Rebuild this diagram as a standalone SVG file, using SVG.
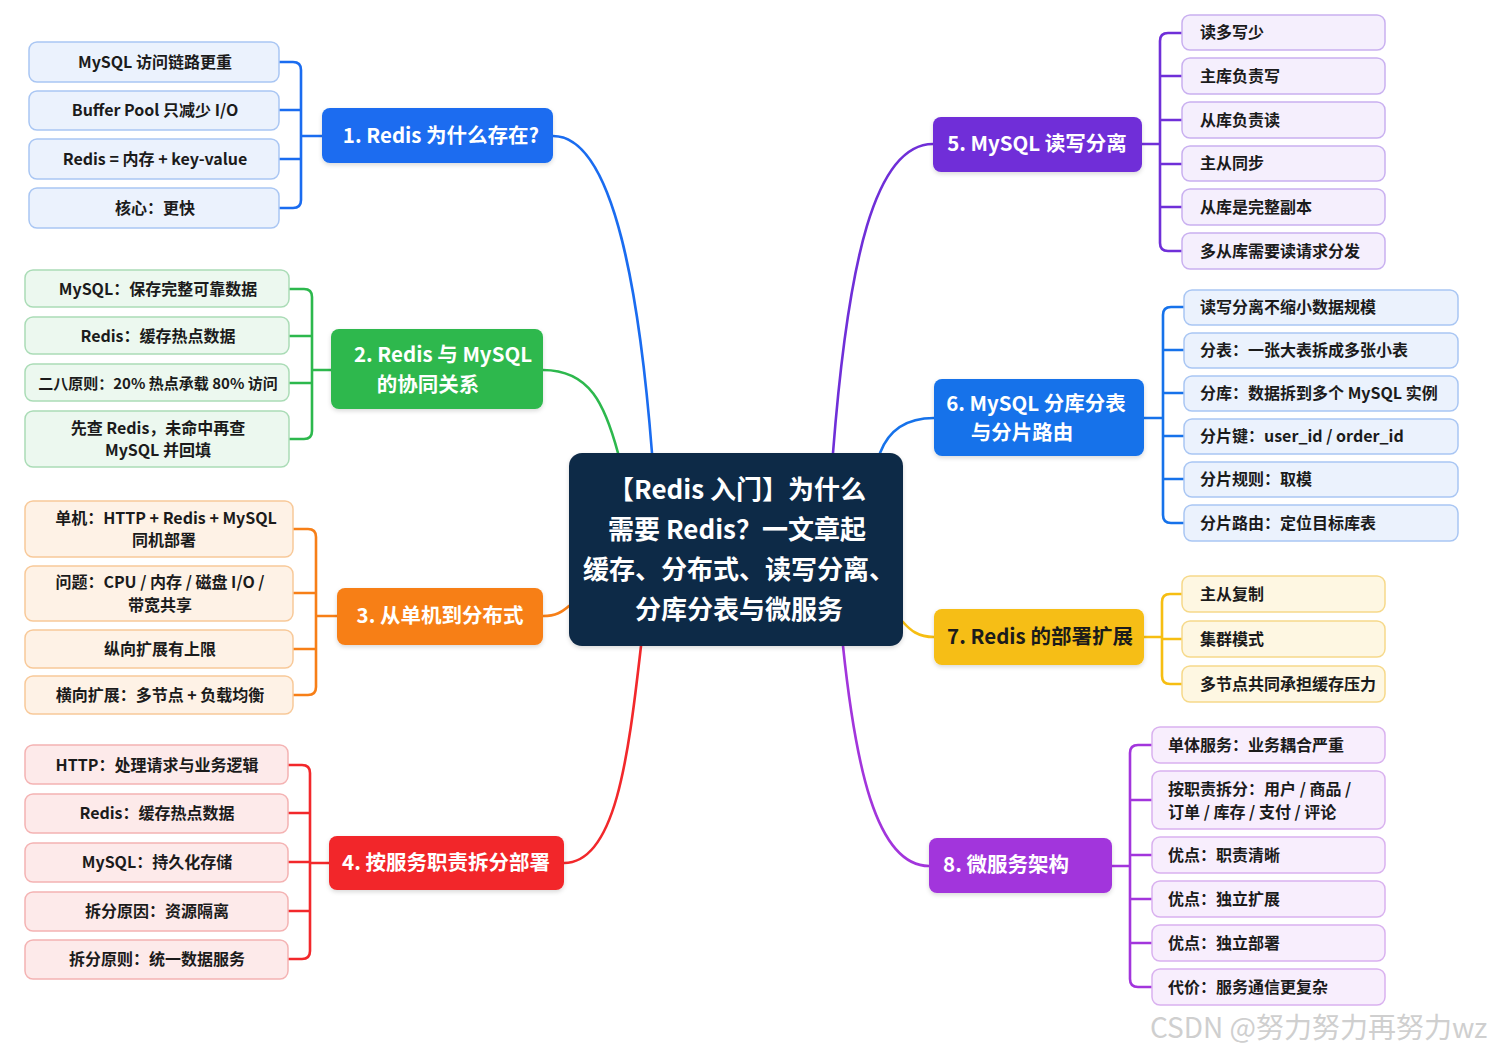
<svg xmlns="http://www.w3.org/2000/svg" width="1492" height="1054" viewBox="0 0 1492 1054">
<defs>
<filter id="sh" x="-10%" y="-10%" width="120%" height="130%"><feDropShadow dx="0" dy="2" stdDeviation="2" flood-color="#000" flood-opacity="0.15"/></filter>
</defs>
<style>
text{font-family:"Noto Sans CJK SC","Noto Sans",sans-serif;font-weight:700}
.c{font-size:16px;fill:#1b1b1b}
.b{font-size:20.5px;fill:#fff}
.m{font-size:26px;fill:#fff}
.mid{text-anchor:middle}
.conn path{fill:none;stroke-width:2.6;stroke-linecap:round}
.cb1{fill:#ebf2fd;stroke:#a9c6f3;stroke-width:1.5}
.cg{fill:#ecf8ef;stroke:#aadcb6;stroke-width:1.5}
.co{fill:#fef2e6;stroke:#f8c999;stroke-width:1.5}
.cr{fill:#fdeaea;stroke:#f4b3b3;stroke-width:1.5}
.cp{fill:#f5effd;stroke:#c9b0f0;stroke-width:1.5}
.cb2{fill:#ebf2fd;stroke:#a9c6f3;stroke-width:1.5}
.cy{fill:#fef7e2;stroke:#f6d98a;stroke-width:1.5}
.cm{fill:#f8eefd;stroke:#d9b1ef;stroke-width:1.5}
</style>
<rect width="1492" height="1054" fill="#fff"/>

<g id="connectors" class="conn">
<path stroke="#1a6cf0" d="M553,136 C615,136 640,300 652,453"/>
<path stroke="#2db84d" d="M543,370 C590,370 605,405 618,453"/>
<path stroke="#f77f17" d="M543,616 C556,616 562,612 569,606"/>
<path stroke="#f2282b" d="M564,863 C615,863 628,760 641,646"/>
<path stroke="#6f2fd8" d="M933,144 C875,144 848,260 833,453"/>
<path stroke="#1672ea" d="M934,418 C905,418 888,432 880,453"/>
<path stroke="#f6be12" d="M934,637 C918,637 910,630 903,622"/>
<path stroke="#a235dc" d="M929,866 C875,866 855,760 843,646"/>
<path stroke="#1a6cf0" d="M279,62 H293 Q301,62 301,70 V200 Q301,208 293,208 H279 M279,110 H301 M279,159 H301 M301,136 H322"/>
<path stroke="#2db84d" d="M289,289 H304 Q312,289 312,297 V431 Q312,439 304,439 H289 M289,336 H312 M289,383 H312 M312,370 H331"/>
<path stroke="#f77f17" d="M293,529 H308 Q316,529 316,537 V687 Q316,695 308,695 H293 M293,593 H316 M293,649 H316 M316,616 H337"/>
<path stroke="#f2282b" d="M288,765 H302 Q310,765 310,773 V951 Q310,959 302,959 H288 M288,813 H310 M288,862 H310 M288,911 H310 M310,863 H329"/>
<path stroke="#6f2fd8" d="M1182,33 H1168 Q1160,33 1160,41 V243 Q1160,251 1168,251 H1182 M1182,76 H1160 M1182,120 H1160 M1182,164 H1160 M1182,207 H1160 M1160,144 H1142"/>
<path stroke="#1672ea" d="M1184,307 H1171 Q1163,307 1163,315 V515 Q1163,523 1171,523 H1184 M1184,350 H1163 M1184,393 H1163 M1184,436 H1163 M1184,479 H1163 M1163,418 H1144"/>
<path stroke="#f6be12" d="M1182,594 H1170 Q1162,594 1162,602 V676 Q1162,684 1170,684 H1182 M1182,639 H1162 M1162,637 H1144"/>
<path stroke="#a235dc" d="M1152,745 H1138 Q1130,745 1130,753 V979 Q1130,987 1138,987 H1152 M1152,800 H1130 M1152,855 H1130 M1152,899 H1130 M1152,943 H1130 M1130,866 H1112"/>
</g>

<g id="center">
<rect x="569" y="453" width="334" height="193" rx="13" fill="#0e2a47" filter="url(#sh)"/>
<text class="m mid" x="737" y="499">【Redis 入门】为什么</text>
<text class="m mid" x="737" y="539">需要 Redis？一文章起</text>
<text class="m mid" x="739" y="579">缓存、分布式、读写分离、</text>
<text class="m mid" x="739" y="619">分库分表与微服务</text>
</g>

<g id="b1">
<rect x="322" y="108" width="231" height="55" rx="8" fill="#1a6cf0" filter="url(#sh)"/>
<text class="b mid" x="441" y="143">1. Redis 为什么存在?</text>
</g>
<g id="b1c1"><rect class="cb1" x="29" y="42" width="250" height="40" rx="8"/><text class="c mid" x="155" y="68">MySQL 访问链路更重</text></g>
<g id="b1c2"><rect class="cb1" x="29" y="91" width="250" height="39" rx="8"/><text class="c mid" x="155" y="116">Buffer Pool 只减少 I/O</text></g>
<g id="b1c3"><rect class="cb1" x="29" y="139" width="250" height="40" rx="8"/><text class="c mid" x="155" y="165">Redis = 内存 + key-value</text></g>
<g id="b1c4"><rect class="cb1" x="29" y="188" width="250" height="40" rx="8"/><text class="c mid" x="155" y="214">核心：更快</text></g>

<g id="b2">
<rect x="331" y="329" width="212" height="80" rx="8" fill="#2db84d" filter="url(#sh)"/>
<text class="b mid" x="443" y="362">2. Redis 与 MySQL</text>
<text class="b mid" x="428" y="392">的协同关系</text>
</g>
<g id="b2c1"><rect class="cg" x="25" y="270" width="264" height="37" rx="8"/><text class="c mid" x="158" y="295">MySQL：保存完整可靠数据</text></g>
<g id="b2c2"><rect class="cg" x="25" y="317" width="264" height="37" rx="8"/><text class="c mid" x="158" y="342">Redis：缓存热点数据</text></g>
<g id="b2c3"><rect class="cg" x="25" y="364" width="264" height="37" rx="8"/><text class="c mid" x="158" y="389" style="font-size:15px">二八原则：20% 热点承载 80% 访问</text></g>
<g id="b2c4"><rect class="cg" x="25" y="411" width="264" height="56" rx="8"/><text class="c mid" x="158" y="434">先查 Redis，未命中再查</text><text class="c mid" x="158" y="456">MySQL 并回填</text></g>

<g id="b3">
<rect x="337" y="588" width="206" height="57" rx="8" fill="#f77f17" filter="url(#sh)"/>
<text class="b mid" x="440" y="623">3. 从单机到分布式</text>
</g>
<g id="b3c1"><rect class="co" x="25" y="501" width="268" height="56" rx="8"/><text class="c mid" x="166" y="524">单机：HTTP + Redis + MySQL</text><text class="c mid" x="164" y="546">同机部署</text></g>
<g id="b3c2"><rect class="co" x="25" y="566" width="268" height="55" rx="8"/><text class="c mid" x="160" y="588">问题：CPU / 内存 / 磁盘 I/O /</text><text class="c mid" x="160" y="611">带宽共享</text></g>
<g id="b3c3"><rect class="co" x="25" y="630" width="268" height="38" rx="8"/><text class="c mid" x="160" y="655">纵向扩展有上限</text></g>
<g id="b3c4"><rect class="co" x="25" y="676" width="268" height="38" rx="8"/><text class="c mid" x="160" y="701">横向扩展：多节点 + 负载均衡</text></g>

<g id="b4">
<rect x="329" y="836" width="235" height="54" rx="8" fill="#f2282b" filter="url(#sh)"/>
<text class="b mid" x="446" y="870">4. 按服务职责拆分部署</text>
</g>
<g id="b4c1"><rect class="cr" x="25" y="745" width="263" height="39" rx="8"/><text class="c mid" x="157" y="771">HTTP：处理请求与业务逻辑</text></g>
<g id="b4c2"><rect class="cr" x="25" y="794" width="263" height="39" rx="8"/><text class="c mid" x="157" y="819">Redis：缓存热点数据</text></g>
<g id="b4c3"><rect class="cr" x="25" y="843" width="263" height="39" rx="8"/><text class="c mid" x="157" y="868">MySQL：持久化存储</text></g>
<g id="b4c4"><rect class="cr" x="25" y="892" width="263" height="39" rx="8"/><text class="c mid" x="157" y="917">拆分原因：资源隔离</text></g>
<g id="b4c5"><rect class="cr" x="25" y="940" width="263" height="39" rx="8"/><text class="c mid" x="157" y="965">拆分原则：统一数据服务</text></g>

<g id="b5">
<rect x="933" y="117" width="209" height="55" rx="8" fill="#6f2fd8" filter="url(#sh)"/>
<text class="b mid" x="1037" y="151">5. MySQL 读写分离</text>
</g>
<g id="b5c1"><rect class="cp" x="1182" y="15" width="203" height="35" rx="8"/><text class="c" x="1200" y="38">读多写少</text></g>
<g id="b5c2"><rect class="cp" x="1182" y="58" width="203" height="36" rx="8"/><text class="c" x="1200" y="82">主库负责写</text></g>
<g id="b5c3"><rect class="cp" x="1182" y="102" width="203" height="36" rx="8"/><text class="c" x="1200" y="126">从库负责读</text></g>
<g id="b5c4"><rect class="cp" x="1182" y="146" width="203" height="35" rx="8"/><text class="c" x="1200" y="169">主从同步</text></g>
<g id="b5c5"><rect class="cp" x="1182" y="189" width="203" height="36" rx="8"/><text class="c" x="1200" y="213">从库是完整副本</text></g>
<g id="b5c6"><rect class="cp" x="1182" y="233" width="203" height="36" rx="8"/><text class="c" x="1200" y="257">多从库需要读请求分发</text></g>

<g id="b6">
<rect x="934" y="379" width="210" height="77" rx="8" fill="#1672ea" filter="url(#sh)"/>
<text class="b mid" x="1036" y="411">6. MySQL 分库分表</text>
<text class="b mid" x="1022" y="440">与分片路由</text>
</g>
<g id="b6c1"><rect class="cb2" x="1184" y="290" width="274" height="35" rx="8"/><text class="c" x="1200" y="313">读写分离不缩小数据规模</text></g>
<g id="b6c2"><rect class="cb2" x="1184" y="333" width="274" height="35" rx="8"/><text class="c" x="1200" y="356">分表：一张大表拆成多张小表</text></g>
<g id="b6c3"><rect class="cb2" x="1184" y="376" width="274" height="35" rx="8"/><text class="c" x="1200" y="399">分库：数据拆到多个 MySQL 实例</text></g>
<g id="b6c4"><rect class="cb2" x="1184" y="419" width="274" height="35" rx="8"/><text class="c" x="1200" y="442">分片键：user_id / order_id</text></g>
<g id="b6c5"><rect class="cb2" x="1184" y="462" width="274" height="35" rx="8"/><text class="c" x="1200" y="485">分片规则：取模</text></g>
<g id="b6c6"><rect class="cb2" x="1184" y="505" width="274" height="36" rx="8"/><text class="c" x="1200" y="529">分片路由：定位目标库表</text></g>

<g id="b7">
<rect x="934" y="609" width="210" height="56" rx="8" fill="#f6be12" filter="url(#sh)"/>
<text class="b mid" x="1040" y="644" style="fill:#1b1b1b">7. Redis 的部署扩展</text>
</g>
<g id="b7c1"><rect class="cy" x="1182" y="576" width="203" height="36" rx="8"/><text class="c" x="1200" y="600">主从复制</text></g>
<g id="b7c2"><rect class="cy" x="1182" y="621" width="203" height="36" rx="8"/><text class="c" x="1200" y="645">集群模式</text></g>
<g id="b7c3"><rect class="cy" x="1182" y="666" width="203" height="36" rx="8"/><text class="c" x="1200" y="690">多节点共同承担缓存压力</text></g>

<g id="b8">
<rect x="929" y="838" width="183" height="55" rx="8" fill="#a235dc" filter="url(#sh)"/>
<text class="b mid" x="1006" y="872">8. 微服务架构</text>
</g>
<g id="b8c1"><rect class="cm" x="1152" y="727" width="233" height="36" rx="8"/><text class="c" x="1168" y="751">单体服务：业务耦合严重</text></g>
<g id="b8c2"><rect class="cm" x="1152" y="771" width="233" height="58" rx="8"/><text class="c" x="1168" y="795">按职责拆分：用户 / 商品 /</text><text class="c" x="1168" y="818">订单 / 库存 / 支付 / 评论</text></g>
<g id="b8c3"><rect class="cm" x="1152" y="837" width="233" height="36" rx="8"/><text class="c" x="1168" y="861">优点：职责清晰</text></g>
<g id="b8c4"><rect class="cm" x="1152" y="881" width="233" height="36" rx="8"/><text class="c" x="1168" y="905">优点：独立扩展</text></g>
<g id="b8c5"><rect class="cm" x="1152" y="925" width="233" height="36" rx="8"/><text class="c" x="1168" y="949">优点：独立部署</text></g>
<g id="b8c6"><rect class="cm" x="1152" y="969" width="233" height="36" rx="8"/><text class="c" x="1168" y="993">代价：服务通信更复杂</text></g>

<text x="1150" y="1038" style="font-size:28px;font-weight:400;fill:#cfcfcf">CSDN @努力努力再努力wz</text>
</svg>
